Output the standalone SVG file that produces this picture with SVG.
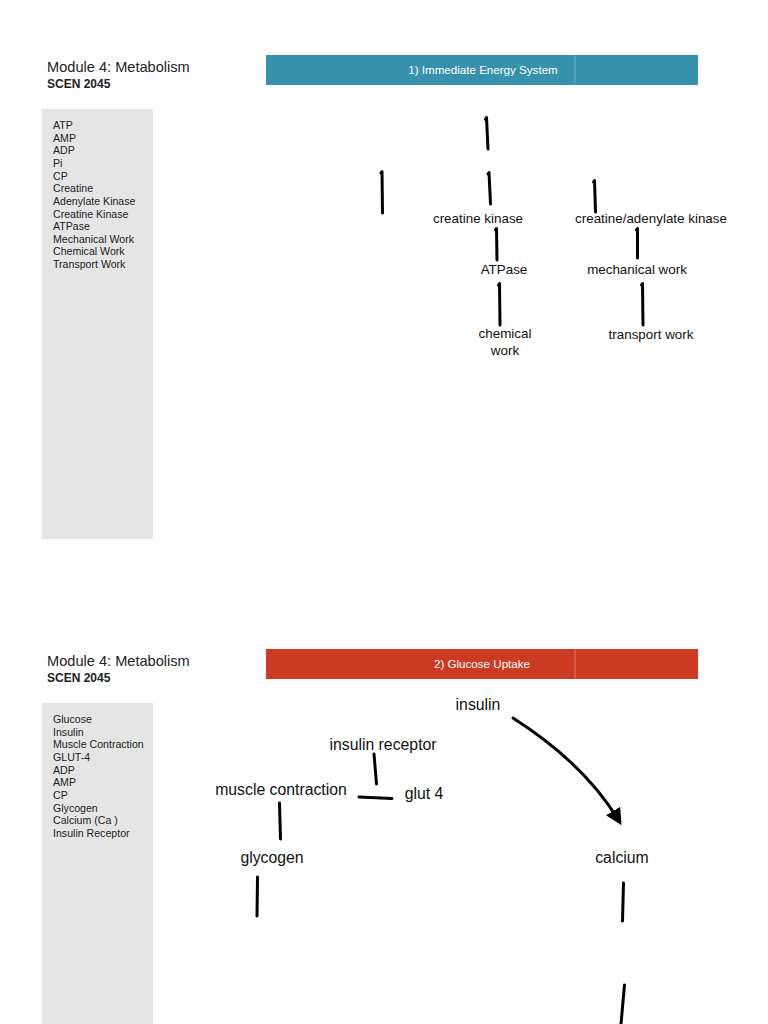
<svg xmlns="http://www.w3.org/2000/svg" width="768" height="1024" viewBox="0 0 768 1024">
<style>
.title{font-family:"Liberation Sans",Arial,sans-serif;font-size:14.6px;fill:#222}
.code{font-family:"Liberation Sans",Arial,sans-serif;font-size:12px;font-weight:bold;fill:#222}
.list{font-family:"Liberation Sans",Arial,sans-serif;font-size:10.6px;fill:#222}
.panel{fill:#e4e5e4}
.bannertxt{font-family:"Liberation Sans",Arial,sans-serif;font-size:11.6px;fill:#fff;text-anchor:middle}
.lbl{font-family:"Liberation Sans",Arial,sans-serif;font-size:13.4px;fill:#111;text-anchor:middle}
.lbl2{font-family:"Liberation Sans",Arial,sans-serif;font-size:15.8px;fill:#111;text-anchor:middle}
.ln{fill:none;stroke:#000;stroke-width:3;stroke-linecap:round;stroke-linejoin:round}
</style>
<defs>
<marker id="ah" viewBox="0 0 10 10" refX="7" refY="5" markerWidth="5.5" markerHeight="5.5" orient="auto" markerUnits="strokeWidth">
<path d="M0,0 L10,5 L0,10 Z" fill="#000"/>
</marker>
</defs>
<rect width="768" height="1024" fill="#fff"/>

<!-- Section 1 -->
<g id="header1">
<text class="title" x="47" y="72">Module 4: Metabolism</text>
<text class="code" x="47" y="88">SCEN 2045</text>
</g>
<g id="panel1">
<rect class="panel" x="42" y="109" width="111" height="430"/>
<text class="list" x="53" y="129">ATP</text>
<text class="list" x="53" y="141.6">AMP</text>
<text class="list" x="53" y="154.3">ADP</text>
<text class="list" x="53" y="166.9">Pi</text>
<text class="list" x="53" y="179.6">CP</text>
<text class="list" x="53" y="192.2">Creatine</text>
<text class="list" x="53" y="204.8">Adenylate Kinase</text>
<text class="list" x="53" y="217.5">Creatine Kinase</text>
<text class="list" x="53" y="230.1">ATPase</text>
<text class="list" x="53" y="242.8">Mechanical Work</text>
<text class="list" x="53" y="255.4">Chemical Work</text>
<text class="list" x="53" y="268">Transport Work</text>
</g>
<g id="banner1">
<rect x="266" y="55" width="432" height="30" fill="#3791ad"/>
<line x1="575" y1="55" x2="575" y2="85" stroke="#6fb2c6" stroke-width="1"/>
<text class="bannertxt" x="483" y="74">1) Immediate Energy System</text>
</g>
<g id="n-creatine-kinase"><text class="lbl" x="478" y="223">creatine kinase</text></g>
<g id="n-creatine-adenylate-kinase"><text class="lbl" x="651" y="223">creatine/adenylate kinase</text></g>
<g id="n-atpase"><text class="lbl" x="504" y="274">ATPase</text></g>
<g id="n-mechanical-work"><text class="lbl" x="637" y="274">mechanical work</text></g>
<g id="n-chemical-work"><text class="lbl" x="505" y="338">chemical</text><text class="lbl" x="505" y="355">work</text></g>
<g id="n-transport-work"><text class="lbl" x="651" y="339">transport work</text></g>

<g id="connectors1">
<path class="ln" d="M485.5,119.5 L486.5,117.5 L488,149"/>
<path class="ln" d="M381,173 L382,171.5 L382.5,213"/>
<path class="ln" d="M488,174 L489,172.5 L490.5,204"/>
<path class="ln" d="M593.5,182 L594.5,180.5 L595.5,212"/>
<path class="ln" d="M495.5,230 L496.5,228.5 L497,260"/>
<path class="ln" d="M636.5,230 L637.5,228.5 L637.5,258"/>
<path class="ln" d="M498.5,285 L499.5,283.5 L500,325"/>
<path class="ln" d="M641.5,285 L642.5,283.5 L643,325"/>
</g>

<!-- Section 2 -->
<g id="header2">
<text class="title" x="47" y="666">Module 4: Metabolism</text>
<text class="code" x="47" y="682">SCEN 2045</text>
</g>
<g id="panel2">
<rect class="panel" x="42" y="703" width="111" height="321"/>
<text class="list" x="53" y="723">Glucose</text>
<text class="list" x="53" y="735.7">Insulin</text>
<text class="list" x="53" y="748.3">Muscle Contraction</text>
<text class="list" x="53" y="761">GLUT-4</text>
<text class="list" x="53" y="773.7">ADP</text>
<text class="list" x="53" y="786.3">AMP</text>
<text class="list" x="53" y="799">CP</text>
<text class="list" x="53" y="811.7">Glycogen</text>
<text class="list" x="53" y="824.3">Calcium (Ca   )</text>
<text class="list" x="53" y="837">Insulin Receptor</text>
</g>
<g id="banner2">
<rect x="266" y="649" width="432" height="30" fill="#cc3a22"/>
<line x1="575" y1="649" x2="575" y2="679" stroke="#e07a68" stroke-width="1"/>
<text class="bannertxt" x="482" y="668">2) Glucose Uptake</text>
</g>
<g id="n-insulin"><text class="lbl2" x="478" y="710">insulin</text></g>
<g id="n-insulin-receptor"><text class="lbl2" x="383" y="750">insulin receptor</text></g>
<g id="n-muscle-contraction"><text class="lbl2" x="281" y="795">muscle contraction</text></g>
<g id="n-glut4"><text class="lbl2" x="424" y="799">glut 4</text></g>
<g id="n-glycogen"><text class="lbl2" x="272" y="863">glycogen</text></g>
<g id="n-calcium"><text class="lbl2" x="622" y="863">calcium</text></g>

<g id="connectors2">
<path class="ln" d="M513,718 Q585,764 619,821" marker-end="url(#ah)"/>
<path class="ln" d="M374,754 L376.5,784"/>
<path class="ln" d="M359,797 L392,798.5"/>
<path class="ln" d="M279.5,803 L280.5,839"/>
<path class="ln" d="M257.5,877 L257,916"/>
<path class="ln" d="M623.5,883 L622.5,921"/>
<path class="ln" d="M624.5,985 L621,1024"/>
</g>
</svg>
